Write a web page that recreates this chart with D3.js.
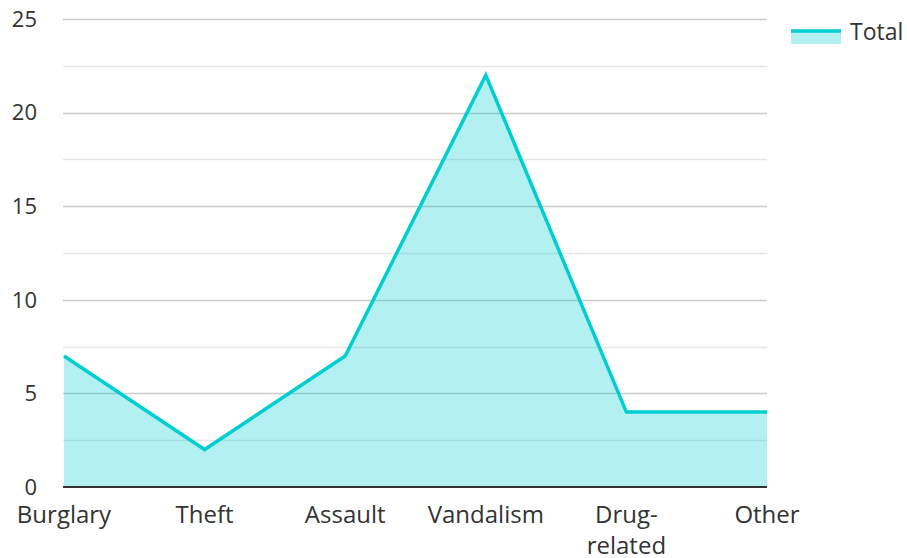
<!DOCTYPE html>
<html>
<head>
<meta charset="utf-8">
<script src="https://cdn.jsdelivr.net/npm/d3@7"></script>
<style>
  body { margin: 0; background: #fff; }
  svg text { font-family: "Open Sans", "Noto Sans", sans-serif; fill: #333; }
</style>
</head>
<body>
<svg id="chart" width="907" height="558"></svg>
<script>
// data
const categories = ["Burglary", "Theft", "Assault", "Vandalism", "Drug-related", "Other"];
const totals = [7, 2, 7, 22, 4, 4];
const yTicks = [0, 5, 10, 15, 20, 25];
const seriesName = "Total";

const lineColor = "#00ced1";
const fillColor = "rgba(0,206,209,0.3)";

const margin = { left: 64, right: 140, top: 19, bottom: 71 };
const width = 907, height = 558;

const svg = d3.select("#chart");

const x = d3.scalePoint()
  .domain(categories)
  .range([margin.left, width - margin.right]);

const y = d3.scaleLinear()
  .domain([0, 25])
  .range([height - margin.bottom, margin.top]);

// minor grid
const minor = d3.range(2.5, 25, 5);
svg.append("g")
  .selectAll("line")
  .data(minor)
  .enter()
  .append("line")
  .attr("x1", margin.left - 1)
  .attr("x2", width - margin.right)
  .attr("y1", d => Math.round(y(d)) + 0.5)
  .attr("y2", d => Math.round(y(d)) + 0.5)
  .attr("stroke", "#e6e6e6")
  .attr("stroke-width", 1.5);

// major grid
svg.append("g")
  .selectAll("line")
  .data(yTicks.filter(d => d > 0))
  .enter()
  .append("line")
  .attr("x1", margin.left - 1)
  .attr("x2", width - margin.right)
  .attr("y1", d => Math.round(y(d)) + 0.5)
  .attr("y2", d => Math.round(y(d)) + 0.5)
  .attr("stroke", "#ccc")
  .attr("stroke-width", 1.5);

const pts = categories.map((c, i) => ({ c, v: totals[i] }));

// area
svg.append("path")
  .datum(pts)
  .attr("fill", fillColor)
  .attr("d", d3.area()
    .x(d => x(d.c))
    .y0(y(0))
    .y1(d => y(d.v)));

// line
svg.append("path")
  .datum(pts)
  .attr("fill", "none")
  .attr("stroke", lineColor)
  .attr("stroke-width", 3.5)
  .attr("stroke-linejoin", "miter")
  .attr("d", d3.line()
    .x(d => x(d.c))
    .y(d => y(d.v)));

// baseline axis
svg.append("line")
  .attr("x1", margin.left - 1)
  .attr("x2", width - margin.right)
  .attr("y1", y(0))
  .attr("y2", y(0))
  .attr("stroke", "#333")
  .attr("stroke-width", 2);

// y labels
svg.append("g")
  .selectAll("text")
  .data(yTicks)
  .enter()
  .append("text")
  .attr("x", 37)
  .attr("y", d => y(d))
  .attr("dy", "0.35em")
  .attr("text-anchor", "end")
  .attr("font-size", 22)
  .text(d => d);

// x labels (wrap on hyphen)
const xl = svg.append("g")
  .selectAll("text")
  .data(categories)
  .enter()
  .append("text")
  .attr("x", d => x(d))
  .attr("y", 523)
  .attr("text-anchor", "middle")
  .attr("font-size", 24);

xl.each(function(d) {
  const parts = d.includes("-") ? [d.slice(0, d.indexOf("-") + 1), d.slice(d.indexOf("-") + 1)] : [d];
  const t = d3.select(this);
  parts.forEach((p, i) => {
    t.append("tspan")
      .attr("x", x(d))
      .attr("dy", i === 0 ? 0 : 31)
      .text(p);
  });
});

// legend
const lg = svg.append("g").attr("transform", "translate(791,28)");
lg.append("rect")
  .attr("x", 0).attr("y", 2)
  .attr("width", 50).attr("height", 14)
  .attr("fill", fillColor);
lg.append("line")
  .attr("x1", 0).attr("x2", 50)
  .attr("y1", 3).attr("y2", 3)
  .attr("stroke", lineColor)
  .attr("stroke-width", 3.5);
lg.append("text")
  .attr("x", 59)
  .attr("y", 4)
  .attr("dy", "0.35em")
  .attr("font-size", 23)
  .text(seriesName);
</script>
</body>
</html>
